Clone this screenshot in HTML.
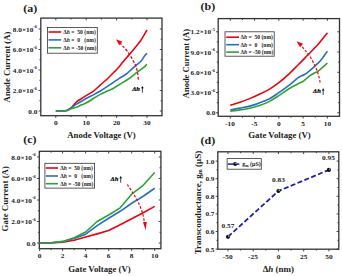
<!DOCTYPE html><html><head><meta charset="utf-8"><style>html,body{margin:0;padding:0;background:#fff;}svg{display:block;}</style></head><body><svg width="342" height="276" viewBox="0 0 342 276" font-family='"Liberation Serif", serif'>
<rect width="342" height="276" fill="#fff"/>
<text transform="translate(30.30,11.80) scale(1.1,1)" font-size="10.91" text-anchor="middle" font-weight="bold" fill="#1a1a1a" >(a)</text>
<rect x="40.80" y="18.10" width="121.20" height="97.60" fill="none" stroke="#333333" stroke-width="1.3"/>
<line x1="55.80" y1="115.7" x2="55.80" y2="117.9" stroke="#333333" stroke-width="0.9"/>
<line x1="55.80" y1="18.1" x2="55.80" y2="20.3" stroke="#333333" stroke-width="0.9"/>
<line x1="71.00" y1="115.7" x2="71.00" y2="117.10000000000001" stroke="#333333" stroke-width="0.9"/>
<line x1="71.00" y1="18.1" x2="71.00" y2="19.5" stroke="#333333" stroke-width="0.9"/>
<line x1="86.20" y1="115.7" x2="86.20" y2="117.9" stroke="#333333" stroke-width="0.9"/>
<line x1="86.20" y1="18.1" x2="86.20" y2="20.3" stroke="#333333" stroke-width="0.9"/>
<line x1="101.40" y1="115.7" x2="101.40" y2="117.10000000000001" stroke="#333333" stroke-width="0.9"/>
<line x1="101.40" y1="18.1" x2="101.40" y2="19.5" stroke="#333333" stroke-width="0.9"/>
<line x1="116.60" y1="115.7" x2="116.60" y2="117.9" stroke="#333333" stroke-width="0.9"/>
<line x1="116.60" y1="18.1" x2="116.60" y2="20.3" stroke="#333333" stroke-width="0.9"/>
<line x1="131.80" y1="115.7" x2="131.80" y2="117.10000000000001" stroke="#333333" stroke-width="0.9"/>
<line x1="131.80" y1="18.1" x2="131.80" y2="19.5" stroke="#333333" stroke-width="0.9"/>
<line x1="147.00" y1="115.7" x2="147.00" y2="117.9" stroke="#333333" stroke-width="0.9"/>
<line x1="147.00" y1="18.1" x2="147.00" y2="20.3" stroke="#333333" stroke-width="0.9"/>
<line x1="38.599999999999994" y1="111.00" x2="40.8" y2="111.00" stroke="#333333" stroke-width="0.9"/>
<line x1="159.8" y1="111.00" x2="162" y2="111.00" stroke="#333333" stroke-width="0.9"/>
<line x1="39.4" y1="100.75" x2="40.8" y2="100.75" stroke="#333333" stroke-width="0.9"/>
<line x1="160.6" y1="100.75" x2="162" y2="100.75" stroke="#333333" stroke-width="0.9"/>
<line x1="38.599999999999994" y1="90.50" x2="40.8" y2="90.50" stroke="#333333" stroke-width="0.9"/>
<line x1="159.8" y1="90.50" x2="162" y2="90.50" stroke="#333333" stroke-width="0.9"/>
<line x1="39.4" y1="80.25" x2="40.8" y2="80.25" stroke="#333333" stroke-width="0.9"/>
<line x1="160.6" y1="80.25" x2="162" y2="80.25" stroke="#333333" stroke-width="0.9"/>
<line x1="38.599999999999994" y1="70.00" x2="40.8" y2="70.00" stroke="#333333" stroke-width="0.9"/>
<line x1="159.8" y1="70.00" x2="162" y2="70.00" stroke="#333333" stroke-width="0.9"/>
<line x1="39.4" y1="59.75" x2="40.8" y2="59.75" stroke="#333333" stroke-width="0.9"/>
<line x1="160.6" y1="59.75" x2="162" y2="59.75" stroke="#333333" stroke-width="0.9"/>
<line x1="38.599999999999994" y1="49.50" x2="40.8" y2="49.50" stroke="#333333" stroke-width="0.9"/>
<line x1="159.8" y1="49.50" x2="162" y2="49.50" stroke="#333333" stroke-width="0.9"/>
<line x1="39.4" y1="39.25" x2="40.8" y2="39.25" stroke="#333333" stroke-width="0.9"/>
<line x1="160.6" y1="39.25" x2="162" y2="39.25" stroke="#333333" stroke-width="0.9"/>
<line x1="38.599999999999994" y1="29.00" x2="40.8" y2="29.00" stroke="#333333" stroke-width="0.9"/>
<line x1="159.8" y1="29.00" x2="162" y2="29.00" stroke="#333333" stroke-width="0.9"/>
<text transform="translate(55.80,125.20) scale(1.1,1)" font-size="6.64" text-anchor="middle" font-weight="bold" fill="#1a1a1a" >0</text>
<text transform="translate(86.20,125.20) scale(1.1,1)" font-size="6.64" text-anchor="middle" font-weight="bold" fill="#1a1a1a" >10</text>
<text transform="translate(116.60,125.20) scale(1.1,1)" font-size="6.64" text-anchor="middle" font-weight="bold" fill="#1a1a1a" >20</text>
<text transform="translate(147.00,125.20) scale(1.1,1)" font-size="6.64" text-anchor="middle" font-weight="bold" fill="#1a1a1a" >30</text>
<text transform="translate(37.40,113.60) scale(1.1,1)" font-size="6.64" text-anchor="end" font-weight="bold" fill="#1a1a1a" >0.0</text>
<text transform="translate(37.10,93.10) scale(1.1,1)" font-size="6.64" text-anchor="end" font-weight="bold" fill="#1a1a1a">2.0×10<tspan font-size="4.11" dy="-3.29">-6</tspan></text>
<text transform="translate(37.10,72.60) scale(1.1,1)" font-size="6.64" text-anchor="end" font-weight="bold" fill="#1a1a1a">4.0×10<tspan font-size="4.11" dy="-3.29">-6</tspan></text>
<text transform="translate(37.10,52.10) scale(1.1,1)" font-size="6.64" text-anchor="end" font-weight="bold" fill="#1a1a1a">6.0×10<tspan font-size="4.11" dy="-3.29">-6</tspan></text>
<text transform="translate(37.10,31.60) scale(1.1,1)" font-size="6.64" text-anchor="end" font-weight="bold" fill="#1a1a1a">8.0×10<tspan font-size="4.11" dy="-3.29">-6</tspan></text>
<text transform="translate(101.50,138.20) scale(1.1,1)" font-size="7.95" text-anchor="middle" font-weight="bold" fill="#1a1a1a" >Anode Voltage (V)</text>
<text x="0" y="0" font-size="8.7" text-anchor="middle" font-weight="bold" fill="#1a1a1a" transform="translate(10.40,67.00) rotate(-90)">Anode Current (A)</text>
<path d="M55.80,111.00 C56.81,111.00 60.36,111.03 61.88,111.00 C63.40,110.97 63.91,110.97 64.92,110.80 C65.93,110.62 66.79,110.61 67.96,109.97 C69.13,109.34 70.49,108.35 71.91,107.00 C73.33,105.65 74.85,103.30 76.47,101.88 C78.09,100.46 79.97,99.57 81.64,98.50 C83.31,97.42 84.48,96.70 86.50,95.42 C88.53,94.14 91.57,92.48 93.80,90.81 C96.03,89.13 97.60,87.39 99.88,85.38 C102.16,83.36 105.20,80.85 107.48,78.71 C109.76,76.58 111.89,74.25 113.56,72.56 C115.23,70.87 115.99,70.27 117.51,68.56 C119.03,66.86 120.81,64.55 122.68,62.31 C124.55,60.07 126.73,57.53 128.76,55.14 C130.79,52.75 132.81,50.44 134.84,47.96 C136.87,45.49 138.89,43.26 140.92,40.27 C142.95,37.29 145.99,31.73 147.00,30.02" fill="none" stroke="#e6060f" stroke-width="1.6" stroke-linejoin="round" />
<path d="M55.80,111.00 C56.81,111.00 60.36,111.03 61.88,111.00 C63.40,110.97 63.91,110.97 64.92,110.80 C65.93,110.62 66.79,110.56 67.96,109.97 C69.13,109.39 70.49,108.28 71.91,107.31 C73.33,106.34 74.85,105.14 76.47,104.13 C78.09,103.12 79.97,102.24 81.64,101.26 C83.31,100.29 84.48,99.40 86.50,98.29 C88.53,97.18 91.57,95.78 93.80,94.60 C96.03,93.42 97.60,92.58 99.88,91.22 C102.16,89.85 105.20,87.89 107.48,86.40 C109.76,84.91 111.53,83.67 113.56,82.30 C115.59,80.93 117.51,79.58 119.64,78.20 C121.77,76.82 124.55,75.28 126.33,74.00 C128.10,72.72 128.76,71.86 130.28,70.51 C131.80,69.16 133.67,67.44 135.45,65.90 C137.22,64.36 139.40,62.96 140.92,61.29 C142.44,59.61 143.55,57.20 144.57,55.86 C145.58,54.51 146.59,53.63 147.00,53.19" fill="none" stroke="#2a6cc2" stroke-width="1.6" stroke-linejoin="round" />
<path d="M55.80,111.00 C56.81,111.00 60.36,111.03 61.88,111.00 C63.40,110.97 63.91,110.93 64.92,110.80 C65.93,110.66 66.79,110.56 67.96,110.18 C69.13,109.80 70.49,109.04 71.91,108.54 C73.33,108.04 74.85,107.82 76.47,107.21 C78.09,106.59 79.97,105.60 81.64,104.85 C83.31,104.10 84.48,103.79 86.50,102.70 C88.53,101.60 91.57,99.64 93.80,98.29 C96.03,96.94 97.60,95.81 99.88,94.60 C102.16,93.39 105.20,92.07 107.48,91.01 C109.76,89.95 111.53,89.36 113.56,88.25 C115.59,87.13 117.51,85.68 119.64,84.35 C121.77,83.02 124.30,81.53 126.33,80.25 C128.35,78.97 129.98,78.01 131.80,76.66 C133.62,75.31 135.50,73.52 137.27,72.15 C139.05,70.79 140.82,69.76 142.44,68.46 C144.06,67.16 146.24,65.05 147.00,64.36" fill="none" stroke="#2fa234" stroke-width="1.6" stroke-linejoin="round" />
<rect x="47.5" y="27.5" width="49.8" height="25.700000000000003" fill="#fff" stroke="#333333" stroke-width="0.8"/>
<line x1="48.5" y1="32" x2="61.2" y2="32" stroke="#e6060f" stroke-width="1.6"/>
<text transform="translate(63.30,33.96) scale(1.1,1)" font-size="5.09" font-weight="bold" fill="#1a1a1a">Δ<tspan font-style="italic">h</tspan> = &#160;50 (nm)</text>
<line x1="48.5" y1="39.9" x2="61.2" y2="39.9" stroke="#2a6cc2" stroke-width="1.6"/>
<text transform="translate(63.30,41.86) scale(1.1,1)" font-size="5.09" font-weight="bold" fill="#1a1a1a">Δ<tspan font-style="italic">h</tspan> = &#160;0 &#160;&#160;(nm)</text>
<line x1="48.5" y1="47.8" x2="61.2" y2="47.8" stroke="#2fa234" stroke-width="1.6"/>
<text transform="translate(63.30,49.76) scale(1.1,1)" font-size="5.09" font-weight="bold" fill="#1a1a1a">Δ<tspan font-style="italic">h</tspan> = -50 (nm)</text>
<path d="M138.40,79.60 C138.27,78.50 138.03,75.27 137.60,73.00 C137.17,70.73 136.67,68.28 135.80,66.00 C134.93,63.72 133.72,61.63 132.40,59.30 C131.08,56.97 129.55,54.25 127.90,52.00 C126.25,49.75 123.90,47.37 122.50,45.80 C121.10,44.23 120.00,43.13 119.50,42.60" fill="none" stroke="#e6060f" stroke-width="1.3" stroke-linejoin="round" stroke-dasharray="2.8,1.6" />
<polygon points="116.00,39.20 122.32,41.72 119.27,45.16" fill="#e6060f"/>
<text transform="translate(132.20,90.90) scale(1.1,1)" font-size="6.00" font-weight="bold" font-style="italic" fill="#000" stroke="#000" stroke-width="0.2">Δh</text>
<line x1="142.40" y1="92.70" x2="142.40" y2="87.70" stroke="#111" stroke-width="0.8"/>
<polygon points="141.00,88.30 143.80,88.30 142.40,86.00" fill="#111"/>
<text transform="translate(207.80,10.40) scale(1.1,1)" font-size="10.91" text-anchor="middle" font-weight="bold" fill="#1a1a1a" >(b)</text>
<rect x="218.20" y="18.60" width="121.30" height="97.70" fill="none" stroke="#333333" stroke-width="1.3"/>
<line x1="230.30" y1="116.3" x2="230.30" y2="118.5" stroke="#333333" stroke-width="0.9"/>
<line x1="230.30" y1="18.6" x2="230.30" y2="20.8" stroke="#333333" stroke-width="0.9"/>
<line x1="242.44" y1="116.3" x2="242.44" y2="117.7" stroke="#333333" stroke-width="0.9"/>
<line x1="242.44" y1="18.6" x2="242.44" y2="20.0" stroke="#333333" stroke-width="0.9"/>
<line x1="254.57" y1="116.3" x2="254.57" y2="118.5" stroke="#333333" stroke-width="0.9"/>
<line x1="254.57" y1="18.6" x2="254.57" y2="20.8" stroke="#333333" stroke-width="0.9"/>
<line x1="266.71" y1="116.3" x2="266.71" y2="117.7" stroke="#333333" stroke-width="0.9"/>
<line x1="266.71" y1="18.6" x2="266.71" y2="20.0" stroke="#333333" stroke-width="0.9"/>
<line x1="278.85" y1="116.3" x2="278.85" y2="118.5" stroke="#333333" stroke-width="0.9"/>
<line x1="278.85" y1="18.6" x2="278.85" y2="20.8" stroke="#333333" stroke-width="0.9"/>
<line x1="290.99" y1="116.3" x2="290.99" y2="117.7" stroke="#333333" stroke-width="0.9"/>
<line x1="290.99" y1="18.6" x2="290.99" y2="20.0" stroke="#333333" stroke-width="0.9"/>
<line x1="303.12" y1="116.3" x2="303.12" y2="118.5" stroke="#333333" stroke-width="0.9"/>
<line x1="303.12" y1="18.6" x2="303.12" y2="20.8" stroke="#333333" stroke-width="0.9"/>
<line x1="315.26" y1="116.3" x2="315.26" y2="117.7" stroke="#333333" stroke-width="0.9"/>
<line x1="315.26" y1="18.6" x2="315.26" y2="20.0" stroke="#333333" stroke-width="0.9"/>
<line x1="327.40" y1="116.3" x2="327.40" y2="118.5" stroke="#333333" stroke-width="0.9"/>
<line x1="327.40" y1="18.6" x2="327.40" y2="20.8" stroke="#333333" stroke-width="0.9"/>
<line x1="216.0" y1="112.80" x2="218.2" y2="112.80" stroke="#333333" stroke-width="0.9"/>
<line x1="337.3" y1="112.80" x2="339.5" y2="112.80" stroke="#333333" stroke-width="0.9"/>
<line x1="216.79999999999998" y1="102.67" x2="218.2" y2="102.67" stroke="#333333" stroke-width="0.9"/>
<line x1="338.1" y1="102.67" x2="339.5" y2="102.67" stroke="#333333" stroke-width="0.9"/>
<line x1="216.0" y1="92.55" x2="218.2" y2="92.55" stroke="#333333" stroke-width="0.9"/>
<line x1="337.3" y1="92.55" x2="339.5" y2="92.55" stroke="#333333" stroke-width="0.9"/>
<line x1="216.79999999999998" y1="82.42" x2="218.2" y2="82.42" stroke="#333333" stroke-width="0.9"/>
<line x1="338.1" y1="82.42" x2="339.5" y2="82.42" stroke="#333333" stroke-width="0.9"/>
<line x1="216.0" y1="72.30" x2="218.2" y2="72.30" stroke="#333333" stroke-width="0.9"/>
<line x1="337.3" y1="72.30" x2="339.5" y2="72.30" stroke="#333333" stroke-width="0.9"/>
<line x1="216.79999999999998" y1="62.17" x2="218.2" y2="62.17" stroke="#333333" stroke-width="0.9"/>
<line x1="338.1" y1="62.17" x2="339.5" y2="62.17" stroke="#333333" stroke-width="0.9"/>
<line x1="216.0" y1="52.05" x2="218.2" y2="52.05" stroke="#333333" stroke-width="0.9"/>
<line x1="337.3" y1="52.05" x2="339.5" y2="52.05" stroke="#333333" stroke-width="0.9"/>
<line x1="216.79999999999998" y1="41.92" x2="218.2" y2="41.92" stroke="#333333" stroke-width="0.9"/>
<line x1="338.1" y1="41.92" x2="339.5" y2="41.92" stroke="#333333" stroke-width="0.9"/>
<line x1="216.0" y1="31.80" x2="218.2" y2="31.80" stroke="#333333" stroke-width="0.9"/>
<line x1="337.3" y1="31.80" x2="339.5" y2="31.80" stroke="#333333" stroke-width="0.9"/>
<text transform="translate(230.00,125.50) scale(1.1,1)" font-size="6.64" text-anchor="middle" font-weight="bold" fill="#1a1a1a" >-10</text>
<text transform="translate(254.27,125.50) scale(1.1,1)" font-size="6.64" text-anchor="middle" font-weight="bold" fill="#1a1a1a" >-5</text>
<text transform="translate(278.85,125.50) scale(1.1,1)" font-size="6.64" text-anchor="middle" font-weight="bold" fill="#1a1a1a" >0</text>
<text transform="translate(303.12,125.50) scale(1.1,1)" font-size="6.64" text-anchor="middle" font-weight="bold" fill="#1a1a1a" >5</text>
<text transform="translate(327.40,125.50) scale(1.1,1)" font-size="6.64" text-anchor="middle" font-weight="bold" fill="#1a1a1a" >10</text>
<text transform="translate(215.30,115.40) scale(1.1,1)" font-size="6.64" text-anchor="end" font-weight="bold" fill="#1a1a1a" >0.0</text>
<text transform="translate(214.90,95.15) scale(1.1,1)" font-size="6.64" text-anchor="end" font-weight="bold" fill="#1a1a1a">3.0×10<tspan font-size="4.11" dy="-3.29">-6</tspan></text>
<text transform="translate(214.90,74.90) scale(1.1,1)" font-size="6.64" text-anchor="end" font-weight="bold" fill="#1a1a1a">6.0×10<tspan font-size="4.11" dy="-3.29">-6</tspan></text>
<text transform="translate(214.90,54.65) scale(1.1,1)" font-size="6.64" text-anchor="end" font-weight="bold" fill="#1a1a1a">9.0×10<tspan font-size="4.11" dy="-3.29">-6</tspan></text>
<text transform="translate(214.90,34.40) scale(1.1,1)" font-size="6.64" text-anchor="end" font-weight="bold" fill="#1a1a1a">1.2×10<tspan font-size="4.11" dy="-3.29">-5</tspan></text>
<text transform="translate(279.50,138.20) scale(1.1,1)" font-size="8.00" text-anchor="middle" font-weight="bold" fill="#1a1a1a" >Gate Voltage (V)</text>
<text x="0" y="0" font-size="8.5" text-anchor="middle" font-weight="bold" fill="#1a1a1a" transform="translate(189.00,63.60) rotate(-90)">Anode Current (A)</text>
<path d="M230.30,105.39 C231.92,104.87 236.77,103.40 240.01,102.27 C243.25,101.14 246.48,99.95 249.72,98.62 C252.96,97.29 256.19,95.85 259.43,94.30 C262.67,92.75 265.90,91.26 269.14,89.32 C272.38,87.38 275.61,85.17 278.85,82.68 C282.09,80.19 285.32,77.37 288.56,74.38 C291.80,71.39 295.03,68.01 298.27,64.75 C301.51,61.48 304.74,58.11 307.98,54.79 C311.22,51.46 314.45,48.48 317.69,44.82 C320.93,41.17 325.78,34.86 327.40,32.87" fill="none" stroke="#e6060f" stroke-width="1.6" stroke-linejoin="round" />
<path d="M230.30,109.78 C231.92,109.50 236.77,108.73 240.01,108.12 C243.25,107.51 246.48,106.99 249.72,106.13 C252.96,105.26 256.19,104.13 259.43,102.94 C262.67,101.74 265.90,100.67 269.14,98.95 C272.38,97.24 275.61,94.86 278.85,92.64 C282.09,90.43 285.32,88.16 288.56,85.67 C291.80,83.18 295.68,79.53 298.27,77.70 C300.86,75.87 302.48,75.65 304.10,74.71 C305.71,73.77 306.36,73.33 307.98,72.05 C309.60,70.78 311.70,69.01 313.81,67.07 C315.91,65.14 318.34,63.09 320.60,60.43 C322.87,57.77 326.27,52.68 327.40,51.13" fill="none" stroke="#2a6cc2" stroke-width="1.6" stroke-linejoin="round" />
<path d="M230.30,111.11 C231.92,110.91 236.77,110.38 240.01,109.91 C243.25,109.45 246.48,109.04 249.72,108.32 C252.96,107.60 256.19,106.71 259.43,105.59 C262.67,104.48 265.90,103.27 269.14,101.61 C272.38,99.95 275.61,97.73 278.85,95.63 C282.09,93.53 285.32,90.98 288.56,88.99 C291.80,87.00 295.84,84.95 298.27,83.68 C300.70,82.40 301.34,82.57 303.12,81.35 C304.91,80.13 307.09,77.75 308.95,76.37 C310.81,74.99 312.75,73.94 314.29,73.05 C315.83,72.16 315.99,72.72 318.18,71.06 C320.36,69.40 325.86,64.42 327.40,63.09" fill="none" stroke="#2fa234" stroke-width="1.6" stroke-linejoin="round" />
<rect x="225" y="31.8" width="49.19999999999999" height="24.400000000000002" fill="#fff" stroke="#333333" stroke-width="0.8"/>
<line x1="226.2" y1="37.2" x2="239" y2="37.2" stroke="#e6060f" stroke-width="1.6"/>
<text transform="translate(240.40,39.16) scale(1.1,1)" font-size="5.09" font-weight="bold" fill="#1a1a1a">Δ<tspan font-style="italic">h</tspan> = &#160;50 (nm)</text>
<line x1="226.2" y1="44.7" x2="239" y2="44.7" stroke="#2a6cc2" stroke-width="1.6"/>
<text transform="translate(240.40,46.66) scale(1.1,1)" font-size="5.09" font-weight="bold" fill="#1a1a1a">Δ<tspan font-style="italic">h</tspan> = &#160;0 &#160;&#160;(nm)</text>
<line x1="226.2" y1="52.1" x2="239" y2="52.1" stroke="#2fa234" stroke-width="1.6"/>
<text transform="translate(240.40,54.06) scale(1.1,1)" font-size="5.09" font-weight="bold" fill="#1a1a1a">Δ<tspan font-style="italic">h</tspan> = -50 (nm)</text>
<path d="M320.20,82.50 C319.90,81.25 319.20,77.67 318.40,75.00 C317.60,72.33 316.75,69.50 315.40,66.50 C314.05,63.50 312.12,59.83 310.30,57.00 C308.48,54.17 306.22,51.58 304.50,49.50 C302.78,47.42 300.75,45.33 300.00,44.50" fill="none" stroke="#e6060f" stroke-width="1.2" stroke-linejoin="round" stroke-dasharray="2.6,1.6" />
<polygon points="296.50,41.20 303.05,43.65 300.11,47.19" fill="#e6060f"/>
<text transform="translate(313.00,93.20) scale(1.1,1)" font-size="6.00" font-weight="bold" font-style="italic" fill="#000" stroke="#000" stroke-width="0.2">Δh</text>
<line x1="323.20" y1="95.00" x2="323.20" y2="90.00" stroke="#111" stroke-width="0.8"/>
<polygon points="321.80,90.60 324.60,90.60 323.20,88.30" fill="#111"/>
<text transform="translate(29.90,143.20) scale(1.1,1)" font-size="10.91" text-anchor="middle" font-weight="bold" fill="#1a1a1a" >(c)</text>
<rect x="39.30" y="151.30" width="121.60" height="97.40" fill="none" stroke="#333333" stroke-width="1.3"/>
<line x1="39.60" y1="248.7" x2="39.60" y2="250.89999999999998" stroke="#333333" stroke-width="0.9"/>
<line x1="39.60" y1="151.3" x2="39.60" y2="153.5" stroke="#333333" stroke-width="0.9"/>
<line x1="51.11" y1="248.7" x2="51.11" y2="250.1" stroke="#333333" stroke-width="0.9"/>
<line x1="51.11" y1="151.3" x2="51.11" y2="152.70000000000002" stroke="#333333" stroke-width="0.9"/>
<line x1="62.62" y1="248.7" x2="62.62" y2="250.89999999999998" stroke="#333333" stroke-width="0.9"/>
<line x1="62.62" y1="151.3" x2="62.62" y2="153.5" stroke="#333333" stroke-width="0.9"/>
<line x1="74.13" y1="248.7" x2="74.13" y2="250.1" stroke="#333333" stroke-width="0.9"/>
<line x1="74.13" y1="151.3" x2="74.13" y2="152.70000000000002" stroke="#333333" stroke-width="0.9"/>
<line x1="85.64" y1="248.7" x2="85.64" y2="250.89999999999998" stroke="#333333" stroke-width="0.9"/>
<line x1="85.64" y1="151.3" x2="85.64" y2="153.5" stroke="#333333" stroke-width="0.9"/>
<line x1="97.15" y1="248.7" x2="97.15" y2="250.1" stroke="#333333" stroke-width="0.9"/>
<line x1="97.15" y1="151.3" x2="97.15" y2="152.70000000000002" stroke="#333333" stroke-width="0.9"/>
<line x1="108.66" y1="248.7" x2="108.66" y2="250.89999999999998" stroke="#333333" stroke-width="0.9"/>
<line x1="108.66" y1="151.3" x2="108.66" y2="153.5" stroke="#333333" stroke-width="0.9"/>
<line x1="120.17" y1="248.7" x2="120.17" y2="250.1" stroke="#333333" stroke-width="0.9"/>
<line x1="120.17" y1="151.3" x2="120.17" y2="152.70000000000002" stroke="#333333" stroke-width="0.9"/>
<line x1="131.68" y1="248.7" x2="131.68" y2="250.89999999999998" stroke="#333333" stroke-width="0.9"/>
<line x1="131.68" y1="151.3" x2="131.68" y2="153.5" stroke="#333333" stroke-width="0.9"/>
<line x1="143.19" y1="248.7" x2="143.19" y2="250.1" stroke="#333333" stroke-width="0.9"/>
<line x1="143.19" y1="151.3" x2="143.19" y2="152.70000000000002" stroke="#333333" stroke-width="0.9"/>
<line x1="154.70" y1="248.7" x2="154.70" y2="250.89999999999998" stroke="#333333" stroke-width="0.9"/>
<line x1="154.70" y1="151.3" x2="154.70" y2="153.5" stroke="#333333" stroke-width="0.9"/>
<line x1="37.099999999999994" y1="243.00" x2="39.3" y2="243.00" stroke="#333333" stroke-width="0.9"/>
<line x1="158.70000000000002" y1="243.00" x2="160.9" y2="243.00" stroke="#333333" stroke-width="0.9"/>
<line x1="37.9" y1="232.25" x2="39.3" y2="232.25" stroke="#333333" stroke-width="0.9"/>
<line x1="159.5" y1="232.25" x2="160.9" y2="232.25" stroke="#333333" stroke-width="0.9"/>
<line x1="37.099999999999994" y1="221.50" x2="39.3" y2="221.50" stroke="#333333" stroke-width="0.9"/>
<line x1="158.70000000000002" y1="221.50" x2="160.9" y2="221.50" stroke="#333333" stroke-width="0.9"/>
<line x1="37.9" y1="210.75" x2="39.3" y2="210.75" stroke="#333333" stroke-width="0.9"/>
<line x1="159.5" y1="210.75" x2="160.9" y2="210.75" stroke="#333333" stroke-width="0.9"/>
<line x1="37.099999999999994" y1="200.00" x2="39.3" y2="200.00" stroke="#333333" stroke-width="0.9"/>
<line x1="158.70000000000002" y1="200.00" x2="160.9" y2="200.00" stroke="#333333" stroke-width="0.9"/>
<line x1="37.9" y1="189.25" x2="39.3" y2="189.25" stroke="#333333" stroke-width="0.9"/>
<line x1="159.5" y1="189.25" x2="160.9" y2="189.25" stroke="#333333" stroke-width="0.9"/>
<line x1="37.099999999999994" y1="178.50" x2="39.3" y2="178.50" stroke="#333333" stroke-width="0.9"/>
<line x1="158.70000000000002" y1="178.50" x2="160.9" y2="178.50" stroke="#333333" stroke-width="0.9"/>
<line x1="37.9" y1="167.75" x2="39.3" y2="167.75" stroke="#333333" stroke-width="0.9"/>
<line x1="159.5" y1="167.75" x2="160.9" y2="167.75" stroke="#333333" stroke-width="0.9"/>
<line x1="37.099999999999994" y1="157.00" x2="39.3" y2="157.00" stroke="#333333" stroke-width="0.9"/>
<line x1="158.70000000000002" y1="157.00" x2="160.9" y2="157.00" stroke="#333333" stroke-width="0.9"/>
<text transform="translate(39.60,258.10) scale(1.1,1)" font-size="6.64" text-anchor="middle" font-weight="bold" fill="#1a1a1a" >0</text>
<text transform="translate(62.62,258.10) scale(1.1,1)" font-size="6.64" text-anchor="middle" font-weight="bold" fill="#1a1a1a" >2</text>
<text transform="translate(85.64,258.10) scale(1.1,1)" font-size="6.64" text-anchor="middle" font-weight="bold" fill="#1a1a1a" >4</text>
<text transform="translate(108.66,258.10) scale(1.1,1)" font-size="6.64" text-anchor="middle" font-weight="bold" fill="#1a1a1a" >6</text>
<text transform="translate(131.68,258.10) scale(1.1,1)" font-size="6.64" text-anchor="middle" font-weight="bold" fill="#1a1a1a" >8</text>
<text transform="translate(154.70,258.10) scale(1.1,1)" font-size="6.64" text-anchor="middle" font-weight="bold" fill="#1a1a1a" >10</text>
<text transform="translate(35.60,245.60) scale(1.1,1)" font-size="6.64" text-anchor="end" font-weight="bold" fill="#1a1a1a" >0.0</text>
<text transform="translate(35.70,224.10) scale(1.1,1)" font-size="6.64" text-anchor="end" font-weight="bold" fill="#1a1a1a">2.0×10<tspan font-size="4.11" dy="-3.29">-6</tspan></text>
<text transform="translate(35.70,202.60) scale(1.1,1)" font-size="6.64" text-anchor="end" font-weight="bold" fill="#1a1a1a">4.0×10<tspan font-size="4.11" dy="-3.29">-6</tspan></text>
<text transform="translate(35.70,181.10) scale(1.1,1)" font-size="6.64" text-anchor="end" font-weight="bold" fill="#1a1a1a">6.0×10<tspan font-size="4.11" dy="-3.29">-6</tspan></text>
<text transform="translate(35.70,159.60) scale(1.1,1)" font-size="6.64" text-anchor="end" font-weight="bold" fill="#1a1a1a">8.0×10<tspan font-size="4.11" dy="-3.29">-6</tspan></text>
<text transform="translate(99.50,271.60) scale(1.1,1)" font-size="8.00" text-anchor="middle" font-weight="bold" fill="#1a1a1a" >Gate Voltage (V)</text>
<text x="0" y="0" font-size="8.8" text-anchor="middle" font-weight="bold" fill="#1a1a1a" transform="translate(8.00,198.80) rotate(-90)">Gate Current (A)</text>
<polyline points="39.60,243.00 51.11,242.89 62.62,242.25 74.13,240.21 85.64,237.09 97.15,233.86 108.66,230.53 120.17,224.72 131.68,218.81 143.19,212.69 154.70,206.34" fill="none" stroke="#e6060f" stroke-width="1.6" stroke-linejoin="round" stroke-linecap="butt"/>
<polyline points="39.60,243.00 51.11,242.78 62.62,241.71 74.13,238.59 85.64,234.19 97.15,225.59 108.66,218.28 120.17,211.29 131.68,203.22 143.19,196.24 154.70,188.28" fill="none" stroke="#2a6cc2" stroke-width="1.6" stroke-linejoin="round" stroke-linecap="butt"/>
<polyline points="39.60,243.00 51.11,242.68 62.62,241.39 74.13,237.73 85.64,232.03 97.15,221.50 108.66,215.05 120.17,207.85 131.68,194.19 143.19,185.27 154.70,172.48" fill="none" stroke="#2fa234" stroke-width="1.6" stroke-linejoin="round" stroke-linecap="butt"/>
<rect x="44.9" y="163.3" width="49.699999999999996" height="24.799999999999983" fill="#fff" stroke="#333333" stroke-width="0.8"/>
<line x1="45.8" y1="168" x2="58" y2="168" stroke="#e6060f" stroke-width="1.6"/>
<text transform="translate(60.30,169.96) scale(1.1,1)" font-size="5.09" font-weight="bold" fill="#1a1a1a">Δ<tspan font-style="italic">h</tspan> = &#160;50 (nm)</text>
<line x1="45.8" y1="176" x2="58" y2="176" stroke="#2a6cc2" stroke-width="1.6"/>
<text transform="translate(60.30,177.96) scale(1.1,1)" font-size="5.09" font-weight="bold" fill="#1a1a1a">Δ<tspan font-style="italic">h</tspan> = &#160;0 &#160;&#160;(nm)</text>
<line x1="45.8" y1="183.7" x2="58" y2="183.7" stroke="#2fa234" stroke-width="1.6"/>
<text transform="translate(60.30,185.66) scale(1.1,1)" font-size="5.09" font-weight="bold" fill="#1a1a1a">Δ<tspan font-style="italic">h</tspan> = -50 (nm)</text>
<path d="M127.20,184.50 C128.20,186.00 131.23,190.25 133.20,193.50 C135.17,196.75 137.40,200.58 139.00,204.00 C140.60,207.42 141.88,210.83 142.80,214.00 C143.72,217.17 144.22,221.50 144.50,223.00" fill="none" stroke="#e6060f" stroke-width="1.2" stroke-linejoin="round" stroke-dasharray="2.6,1.6" />
<polygon points="145.60,230.00 143.01,222.20 146.80,221.86" fill="#e6060f"/>
<text transform="translate(110.50,180.90) scale(1.1,1)" font-size="6.00" font-weight="bold" font-style="italic" fill="#000" stroke="#000" stroke-width="0.2">Δh</text>
<line x1="120.70" y1="182.70" x2="120.70" y2="177.70" stroke="#111" stroke-width="0.8"/>
<polygon points="119.30,178.30 122.10,178.30 120.70,176.00" fill="#111"/>
<text transform="translate(207.80,143.80) scale(1.1,1)" font-size="10.91" text-anchor="middle" font-weight="bold" fill="#1a1a1a" >(d)</text>
<rect x="217.80" y="151.80" width="121.00" height="97.40" fill="none" stroke="#333333" stroke-width="1.3"/>
<line x1="228.00" y1="249.2" x2="228.00" y2="251.39999999999998" stroke="#333333" stroke-width="0.9"/>
<line x1="228.00" y1="151.8" x2="228.00" y2="154.0" stroke="#333333" stroke-width="0.9"/>
<line x1="240.61" y1="249.2" x2="240.61" y2="250.6" stroke="#333333" stroke-width="0.9"/>
<line x1="240.61" y1="151.8" x2="240.61" y2="153.20000000000002" stroke="#333333" stroke-width="0.9"/>
<line x1="253.22" y1="249.2" x2="253.22" y2="251.39999999999998" stroke="#333333" stroke-width="0.9"/>
<line x1="253.22" y1="151.8" x2="253.22" y2="154.0" stroke="#333333" stroke-width="0.9"/>
<line x1="265.84" y1="249.2" x2="265.84" y2="250.6" stroke="#333333" stroke-width="0.9"/>
<line x1="265.84" y1="151.8" x2="265.84" y2="153.20000000000002" stroke="#333333" stroke-width="0.9"/>
<line x1="278.45" y1="249.2" x2="278.45" y2="251.39999999999998" stroke="#333333" stroke-width="0.9"/>
<line x1="278.45" y1="151.8" x2="278.45" y2="154.0" stroke="#333333" stroke-width="0.9"/>
<line x1="291.06" y1="249.2" x2="291.06" y2="250.6" stroke="#333333" stroke-width="0.9"/>
<line x1="291.06" y1="151.8" x2="291.06" y2="153.20000000000002" stroke="#333333" stroke-width="0.9"/>
<line x1="303.67" y1="249.2" x2="303.67" y2="251.39999999999998" stroke="#333333" stroke-width="0.9"/>
<line x1="303.67" y1="151.8" x2="303.67" y2="154.0" stroke="#333333" stroke-width="0.9"/>
<line x1="316.29" y1="249.2" x2="316.29" y2="250.6" stroke="#333333" stroke-width="0.9"/>
<line x1="316.29" y1="151.8" x2="316.29" y2="153.20000000000002" stroke="#333333" stroke-width="0.9"/>
<line x1="328.90" y1="249.2" x2="328.90" y2="251.39999999999998" stroke="#333333" stroke-width="0.9"/>
<line x1="328.90" y1="151.8" x2="328.90" y2="154.0" stroke="#333333" stroke-width="0.9"/>
<line x1="215.60000000000002" y1="249.10" x2="217.8" y2="249.10" stroke="#333333" stroke-width="0.9"/>
<line x1="336.6" y1="249.10" x2="338.8" y2="249.10" stroke="#333333" stroke-width="0.9"/>
<line x1="216.4" y1="240.30" x2="217.8" y2="240.30" stroke="#333333" stroke-width="0.9"/>
<line x1="337.40000000000003" y1="240.30" x2="338.8" y2="240.30" stroke="#333333" stroke-width="0.9"/>
<line x1="215.60000000000002" y1="231.50" x2="217.8" y2="231.50" stroke="#333333" stroke-width="0.9"/>
<line x1="336.6" y1="231.50" x2="338.8" y2="231.50" stroke="#333333" stroke-width="0.9"/>
<line x1="216.4" y1="222.70" x2="217.8" y2="222.70" stroke="#333333" stroke-width="0.9"/>
<line x1="337.40000000000003" y1="222.70" x2="338.8" y2="222.70" stroke="#333333" stroke-width="0.9"/>
<line x1="215.60000000000002" y1="213.90" x2="217.8" y2="213.90" stroke="#333333" stroke-width="0.9"/>
<line x1="336.6" y1="213.90" x2="338.8" y2="213.90" stroke="#333333" stroke-width="0.9"/>
<line x1="216.4" y1="205.10" x2="217.8" y2="205.10" stroke="#333333" stroke-width="0.9"/>
<line x1="337.40000000000003" y1="205.10" x2="338.8" y2="205.10" stroke="#333333" stroke-width="0.9"/>
<line x1="215.60000000000002" y1="196.30" x2="217.8" y2="196.30" stroke="#333333" stroke-width="0.9"/>
<line x1="336.6" y1="196.30" x2="338.8" y2="196.30" stroke="#333333" stroke-width="0.9"/>
<line x1="216.4" y1="187.50" x2="217.8" y2="187.50" stroke="#333333" stroke-width="0.9"/>
<line x1="337.40000000000003" y1="187.50" x2="338.8" y2="187.50" stroke="#333333" stroke-width="0.9"/>
<line x1="215.60000000000002" y1="178.70" x2="217.8" y2="178.70" stroke="#333333" stroke-width="0.9"/>
<line x1="336.6" y1="178.70" x2="338.8" y2="178.70" stroke="#333333" stroke-width="0.9"/>
<line x1="216.4" y1="169.90" x2="217.8" y2="169.90" stroke="#333333" stroke-width="0.9"/>
<line x1="337.40000000000003" y1="169.90" x2="338.8" y2="169.90" stroke="#333333" stroke-width="0.9"/>
<line x1="215.60000000000002" y1="161.10" x2="217.8" y2="161.10" stroke="#333333" stroke-width="0.9"/>
<line x1="336.6" y1="161.10" x2="338.8" y2="161.10" stroke="#333333" stroke-width="0.9"/>
<text transform="translate(227.70,259.00) scale(1.1,1)" font-size="6.64" text-anchor="middle" font-weight="bold" fill="#1a1a1a" >-50</text>
<text transform="translate(252.92,259.00) scale(1.1,1)" font-size="6.64" text-anchor="middle" font-weight="bold" fill="#1a1a1a" >-25</text>
<text transform="translate(278.45,259.00) scale(1.1,1)" font-size="6.64" text-anchor="middle" font-weight="bold" fill="#1a1a1a" >0</text>
<text transform="translate(303.67,259.00) scale(1.1,1)" font-size="6.64" text-anchor="middle" font-weight="bold" fill="#1a1a1a" >25</text>
<text transform="translate(328.90,259.00) scale(1.1,1)" font-size="6.64" text-anchor="middle" font-weight="bold" fill="#1a1a1a" >50</text>
<text transform="translate(214.50,251.50) scale(1.1,1)" font-size="6.64" text-anchor="end" font-weight="bold" fill="#1a1a1a" >0.5</text>
<text transform="translate(214.50,233.90) scale(1.1,1)" font-size="6.64" text-anchor="end" font-weight="bold" fill="#1a1a1a" >0.6</text>
<text transform="translate(214.50,216.30) scale(1.1,1)" font-size="6.64" text-anchor="end" font-weight="bold" fill="#1a1a1a" >0.7</text>
<text transform="translate(214.50,198.70) scale(1.1,1)" font-size="6.64" text-anchor="end" font-weight="bold" fill="#1a1a1a" >0.8</text>
<text transform="translate(214.50,181.10) scale(1.1,1)" font-size="6.64" text-anchor="end" font-weight="bold" fill="#1a1a1a" >0.9</text>
<text transform="translate(214.50,163.50) scale(1.1,1)" font-size="6.64" text-anchor="end" font-weight="bold" fill="#1a1a1a" >1.0</text>
<text transform="translate(278.30,272.20) scale(1.1,1)" font-size="8.18" text-anchor="middle" font-weight="bold" fill="#1a1a1a">Δ<tspan font-style="italic">h</tspan> (nm)</text>
<text x="0" y="0" font-size="9.1" text-anchor="middle" font-weight="bold" fill="#1a1a1a" transform="translate(200.6,202.5) rotate(-90)">Transconductance, g<tspan font-size="6" dy="1.8">m</tspan><tspan dy="-1.8"> (μS)</tspan></text>
<polyline points="228.00,236.78 278.45,191.02 328.90,169.90" fill="none" stroke="#1a22a8" stroke-width="1.8" stroke-linejoin="round" stroke-linecap="butt" stroke-dasharray="5,2.4"/>
<circle cx="228.00" cy="236.78" r="2.1" fill="#111"/>
<circle cx="228.80" cy="235.98" r="0.7" fill="#ddd"/>
<circle cx="278.45" cy="191.02" r="2.1" fill="#111"/>
<circle cx="279.25" cy="190.22" r="0.7" fill="#ddd"/>
<circle cx="328.90" cy="169.90" r="2.1" fill="#111"/>
<circle cx="329.70" cy="169.10" r="0.7" fill="#ddd"/>
<text transform="translate(228.00,227.58) scale(1.1,1)" font-size="6.64" text-anchor="middle" font-weight="bold" fill="#1a1a1a" >0.57</text>
<text transform="translate(278.45,182.42) scale(1.1,1)" font-size="6.64" text-anchor="middle" font-weight="bold" fill="#1a1a1a" >0.83</text>
<text transform="translate(328.40,159.90) scale(1.1,1)" font-size="6.64" text-anchor="middle" font-weight="bold" fill="#1a1a1a" >0.95</text>
<rect x="227.1" y="158.6" width="34.2" height="10.6" fill="#fff" stroke="#333333" stroke-width="0.8"/>
<line x1="227.8" y1="164.1" x2="239.4" y2="164.1" stroke="#1a22a8" stroke-width="1.5"/>
<circle cx="235.2" cy="164.1" r="2" fill="#111"/>
<circle cx="236" cy="163.3" r="0.7" fill="#ddd"/>
<text transform="translate(242.20,166.20) scale(1.1,1)" font-size="5.45" font-weight="bold" fill="#1a1a1a">g<tspan font-size="3.64" dy="1">m</tspan><tspan dy="-1"> (μS)</tspan></text>
</svg></body></html>
